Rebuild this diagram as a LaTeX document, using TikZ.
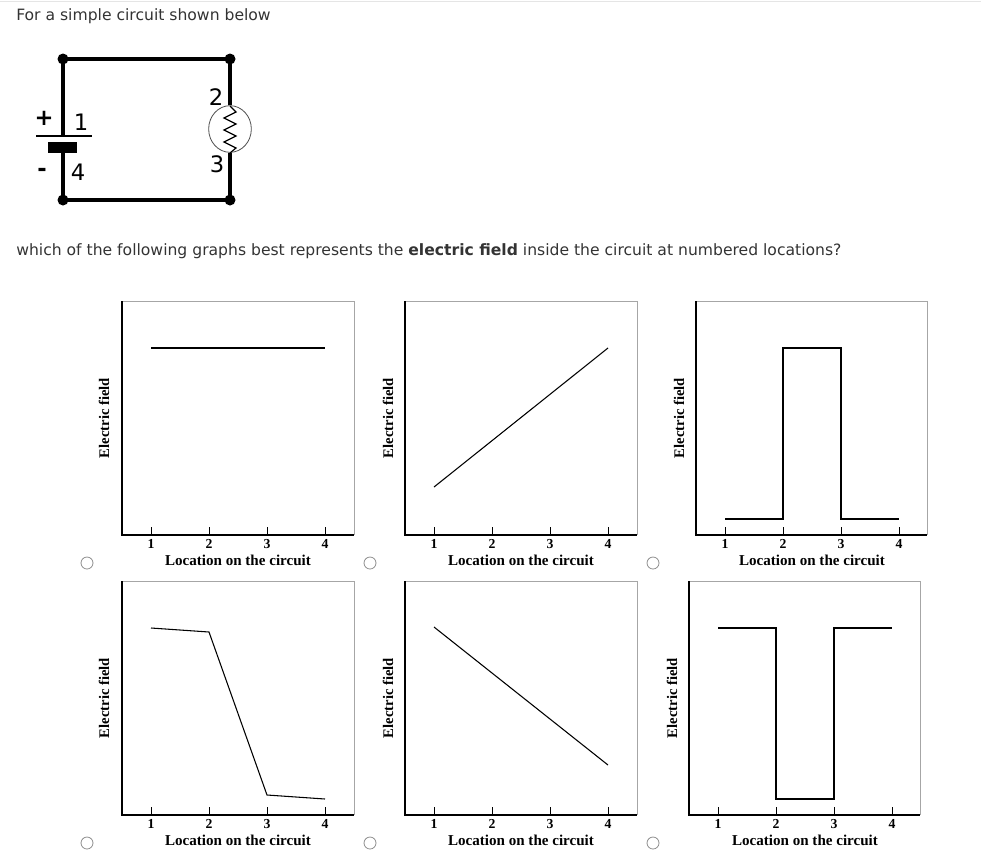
\documentclass[tikz,border=0pt]{standalone}
\usepackage{fontspec}
\usetikzlibrary{shapes.geometric}
\setmainfont{DejaVu Sans}
\newfontfamily\tms{Liberation Serif}
\begin{document}
\begin{tikzpicture}[x=0.75pt,y=-0.75pt,
 txt/.style={text=black!80,font=\fontsize{11.7}{13}\selectfont,anchor=west,inner sep=0},
 frm/.style={draw=black!35,line width=0.6pt},
 ax/.style={draw=black,line width=0.8pt},
 tk/.style={draw=black,line width=0.6pt},
 tl/.style={font=\tms\bfseries\fontsize{10.3}{11}\selectfont,inner sep=0},
 xl/.style={font=\tms\bfseries\fontsize{11.3}{12}\selectfont,inner sep=0},
 yl/.style={font=\tms\bfseries\fontsize{11}{12}\selectfont,inner sep=0,rotate=90},
 crv/.style={draw=black,line width=0.8pt},
 radio/.style={draw=black!45,line width=0.6pt,circle,minimum size=9pt,inner sep=0},
 wire/.style={line width=2.6pt},
 cl/.style={font=\fontsize{17}{18}\selectfont,inner sep=0}]
\useasboundingbox (0,0) rectangle (981,865);
\draw[black!10] (0,1) -- (981,1);
\node[txt] (t1) at (16,16) {For a simple circuit shown below};
\node[txt] (t2) at (16,251) {which of the following graphs best represents the \textbf{electric field} inside the circuit at numbered locations?};
% circuit
\coordinate (tl) at (63,59); \coordinate (tr) at (230,59);
\coordinate (bl) at (63,200); \coordinate (br) at (230,200);
\draw[wire] (63,136) -- (tl) -- (tr) -- (230,105);
\draw[wire] (230,153) -- (br) -- (bl) -- (63,150);
\foreach \p in {tl,tr,bl,br} \fill (\p) circle (5.5);
\draw[line width=1.6pt] (36,136) -- (92,136);
\fill (48,142) rectangle (77,153);
\node[draw=black!70,ellipse,minimum width=32pt,minimum height=35pt,inner sep=0,line width=0.6pt] (res) at (230,129) {};
\draw[line width=0.9pt] (230,106) -- (236,112) -- (224,118) -- (236,124) -- (224,130) -- (236,136) -- (224,142) -- (236,148) -- (230,153);
\node[cl] (pl) at (44,118) {\bfseries +};
\node[cl] (n1) at (81,122) {1};
\node[cl] (n2) at (216,97) {2};
\node[cl] (n3) at (217,164) {3};
\node[cl] (mi) at (42,172) {\bfseries -};
\node[cl] (n4) at (78,172) {4};
% graphs
\newcommand{\graphbox}[8]{%
 \draw[frm] (#1,#4) -- (#1,#2) -- (#3,#2) -- (#3,#4);
 \draw[ax] (#1,#2) -- (#1,#4) -- (#3,#4);
 \foreach \i [evaluate=\i as \xx using #6+58*(\i-1)] in {1,2,3,4} {
   \draw[tk] (\xx,#4) -- (\xx,#4-8);
   \node[tl] (#8t\i) at (\xx,#4+9) {\i};}
 \node[xl] (#8x) at ({(#6+#6+174)/2},#4+25) {Location on the circuit};
 \node[yl] (#8y) at (#5,{(#2+#4)/2}) {Electric field};
 \node[radio] (#8r) at (#7,#4+28) {};
}
\graphbox{122}{301}{354}{535}{104}{151}{87}{ga}
\graphbox{405}{301}{637}{535}{388}{434}{370}{gb}
\graphbox{696}{301}{927}{535}{679}{725}{653}{gc}
\graphbox{122}{581}{354}{815}{104}{151}{87}{gd}
\graphbox{405}{581}{637}{815}{388}{434}{370}{ge}
\graphbox{689}{581}{920}{815}{672}{718}{653}{gf}
\draw[crv] (151,348) -- (325,348);
\draw[crv] (434,487) -- (608,348);
\draw[crv] (725,519) -- (783,519) -- (783,348) -- (841,348) -- (841,519) -- (899,519);
\draw[crv] (151,628) -- (209,632) -- (267,795) -- (325,799);
\draw[crv] (434,627) -- (608,765);
\draw[crv] (718,628) -- (776,628) -- (776,799) -- (834,799) -- (834,628) -- (892,628);
\end{tikzpicture}
\end{document}
